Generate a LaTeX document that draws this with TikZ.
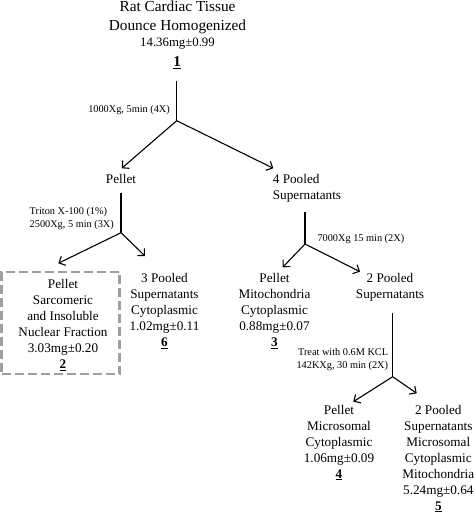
\documentclass[tikz,border=0pt]{standalone}
\usepackage{fontspec}
\setmainfont{Liberation Serif}
\usetikzlibrary{arrows.meta}
\newcommand{\fracnum}[1]{\underline{\textbf{#1}}}
\begin{document}
\begin{tikzpicture}[x=1pt,y=-1pt,
  txt/.style={align=center,inner sep=0pt,font=\fontsize{13.2}{16}\selectfont,anchor=base},
  lbl/.style={inner sep=0pt,font=\fontsize{10.3}{13.3}\selectfont},
  conn/.style={line width=1.1pt,black},
  arr/.style={conn,-{Straight Barb[length=5pt,width=10pt]}},
  dbox/.style={draw=gray!75,line width=2.4pt,dash pattern=on 9pt off 4pt,inner sep=0pt}]
\useasboundingbox (0,0) rectangle (474,513);
% top (base anchor = baseline of the last line)
\node[txt,font=\fontsize{15.3}{19}\selectfont] (title) at (177.5,30.7) {Rat Cardiac Tissue\\Dounce Homogenized};
\node[txt,font=\fontsize{12.8}{16}\selectfont] (w1) at (177.5,46.7) {14.36mg±0.99};
\node[txt,font=\fontsize{15}{18}\selectfont] (n1) at (177,66.7) {\fracnum{1}};
\coordinate (t1) at (176.7,81);
\coordinate (j1) at (176.7,120.7);
\draw[conn] (t1) -- (j1);
\node[lbl,anchor=base east] (c1) at (170,113) {1000Xg, 5min (4X)};
\coordinate (a1) at (121.7,168.3);
\coordinate (a2) at (273.3,168.3);
\draw[arr] (j1) -- (a1);
\draw[arr] (j1) -- (a2);
% second level
\node[txt] (pel1) at (121,183.5) {Pellet};
\node[txt,align=left,anchor=base west] (sup4) at (272.7,199.5) {4 Pooled\\Supernatants};
% pellet branch
\coordinate (t2) at (121,193.3);
\coordinate (j2) at (121,232.7);
\draw[conn] (t2) -- (j2);
\node[lbl,align=left,anchor=base west] (c2) at (29.5,227.8) {Triton X-100 (1\%)\\2500Xg, 5 min (3X)};
\coordinate (a3) at (58.3,263.3);
\coordinate (a4) at (145,256);
\draw[arr] (j2) -- (a3);
\draw[arr] (j2) -- (a4);
\node[dbox,draw,minimum width=118pt,minimum height=102pt] (box) at (60.5,323) {};
\node[txt] (frac2) at (63,368.3) {Pellet\\Sarcomeric\\and Insoluble\\Nuclear Fraction\\3.03mg±0.20\\\fracnum{2}};
\node[txt] (sup3) at (164.5,346.7) {3 Pooled\\Supernatants\\Cytoplasmic\\1.02mg±0.11\\\fracnum{6}};
% supernatant branch
\coordinate (t3) at (305,212.3);
\coordinate (j3) at (305,244);
\draw[conn] (t3) -- (j3);
\node[lbl,anchor=base west] (c3) at (317.3,241) {7000Xg 15 min (2X)};
\coordinate (a5) at (282.7,267.3);
\coordinate (a6) at (360,271.7);
\draw[arr] (j3) -- (a5);
\draw[arr] (j3) -- (a6);
\node[txt] (mito3) at (274.5,346.7) {Pellet\\Mitochondria\\Cytoplasmic\\0.88mg±0.07\\\fracnum{3}};
\node[txt] (sup2) at (390,298.7) {2 Pooled\\Supernatants};
% KCl branch
\coordinate (t4) at (392.7,313.3);
\coordinate (j4) at (392.7,376.7);
\draw[conn] (t4) -- (j4);
\node[lbl,align=right,anchor=base east] (c4) at (388.3,368.3) {Treat with 0.6M KCL\\142KXg, 30 min (2X)};
\coordinate (a7) at (353.3,401.7);
\coordinate (a8) at (416.7,393.3);
\draw[arr] (j4) -- (a7);
\draw[arr] (j4) -- (a8);
\node[txt] (mic4) at (339,478) {Pellet\\Microsomal\\Cytoplasmic\\1.06mg±0.09\\\fracnum{4}};
\node[txt] (sup5) at (438.3,510) {2 Pooled\\Supernatants\\Microsomal\\Cytoplasmic\\Mitochondria\\5.24mg±0.64\\\fracnum{5}};
\end{tikzpicture}
\end{document}
